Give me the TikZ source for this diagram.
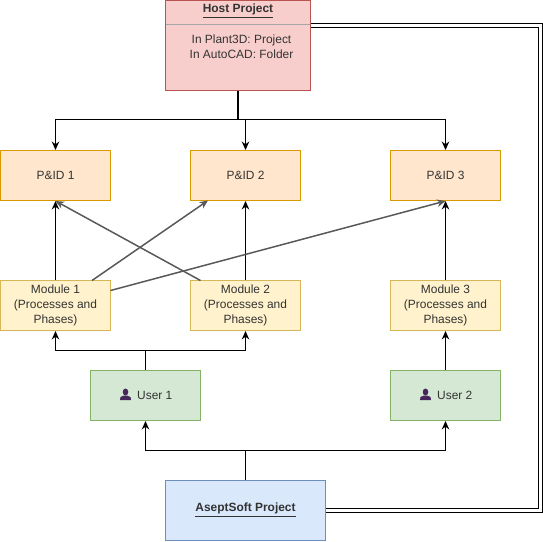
\documentclass[tikz,border=0pt]{standalone}
\usepackage{fontspec}
\setmainfont{Liberation Sans}
\usetikzlibrary{arrows.meta,calc}
\definecolor{labelgray}{HTML}{333333}
\definecolor{linkgray}{HTML}{595959}
\definecolor{iconpurple}{HTML}{47265C}
\definecolor{hostfill}{HTML}{F8CECC}
\definecolor{hostline}{HTML}{B85450}
\definecolor{pidfill}{HTML}{FFE6CC}
\definecolor{pidline}{HTML}{D79B00}
\definecolor{modfill}{HTML}{FFF2CC}
\definecolor{modline}{HTML}{D6B656}
\definecolor{userfill}{HTML}{D5E8D4}
\definecolor{userline}{HTML}{82B366}
\definecolor{asepfill}{HTML}{DAE8FC}
\definecolor{asepline}{HTML}{6C8EBF}
\tikzset{
  box/.style={draw,line width=.02cm,text=labelgray,align=center,font=\fontsize{6.8}{8.55}\selectfont},
  hostbox/.style={box,draw=hostline,fill=hostfill},
  pidbox/.style={box,draw=pidline,fill=pidfill,minimum width=2.2cm,minimum height=1cm},
  modulebox/.style={box,draw=modline,fill=modfill,minimum width=2.2cm,minimum height=1cm,inner sep=0pt},
  userbox/.style={box,draw=userline,fill=userfill,minimum width=2.2cm,minimum height=1cm},
  asepbox/.style={box,draw=asepline,fill=asepfill,minimum width=3.2cm,minimum height=1.2cm},
  link/.style={line width=.02cm,-{Stealth[length=.17cm,width=.15cm]}},
  bus/.style={line width=.02cm},
  trunk/.style={line width=.04cm},
  graylink/.style={link,draw=linkgray,line width=.03cm},
  ring/.style={line width=.02cm,double,double distance=.06cm},
  usericon/.pic={
    \fill[iconpurple] (0,.05) ellipse (.055 and .07);
    \fill[iconpurple] (-.11,-.11)--(-.1,-.05)--(-.03,-.02)--(.03,-.02)--(.1,-.05)--(.11,-.11)--cycle;
  }
}
\begin{document}
\begin{tikzpicture}[scale=1]
\useasboundingbox (0,0) rectangle (10.86,10.82);
\node[hostbox,minimum width=2.9cm,minimum height=1.8cm] (host) at (4.76,9.91) {};
\node[box,draw=none] (hosttitle) at (4.76,10.59) {\textbf{\underline{Host Project}}};
\node[box,draw=none] (hostbody) at (4.83,9.88) {In Plant3D: Project\\In AutoCAD: Folder};
\node[pidbox] (P1) at (1.11,7.31) {P\&ID 1};
\node[pidbox] (P2) at (4.91,7.31) {P\&ID 2};
\node[pidbox] (P3) at (8.91,7.31) {P\&ID 3};
\node[modulebox] (M1) at (1.11,4.71) {Module 1\\(Processes and\\Phases)};
\node[modulebox] (M2) at (4.91,4.71) {Module 2\\(Processes and\\Phases)};
\node[modulebox] (M3) at (8.91,4.71) {Module 3\\(Processes and\\Phases)};
\node[userbox] (U1) at (2.91,2.91) {\hspace{.37cm}User 1};
\node[userbox] (U2) at (8.91,2.91) {\hspace{.37cm}User 2};
\pic at ($(U1.center)+(-.4,.02)$) {usericon};
\pic at ($(U2.center)+(-.4,.02)$) {usericon};
\node[asepbox] (A) at (4.91,.61) {\textbf{\underline{AseptSoft Project}}};
% separator of the host box
\coordinate (hostsepl) at (3.32,10.33);
\coordinate (hostsepr) at (6.2,10.33);
\draw[line width=.02cm,gray!70] (hostsepl)--(hostsepr);
% junctions
\coordinate (hostbus) at (4.76,8.42);
\coordinate (userbus) at (2.91,3.82);
\coordinate (asepbus) at (4.91,1.82);
\draw[trunk] (host.south)--(hostbus);
\draw[link] (hostbus)-|(P1.north);
\draw[link] (hostbus)-|(P2.north);
\draw[link] (hostbus)-|(P3.north);
\draw[link] (M1.north)--(P1.south);
\draw[link] (M2.north)--(P2.south);
\draw[link] (M3.north)--(P3.south);
% crossing links
\coordinate (m1top) at (1.84,5.21);
\coordinate (m1right) at (2.21,5.01);
\coordinate (m2top) at (4.01,5.21);
\coordinate (p2low) at (4.16,6.81);
\draw[graylink] (m1top)--(p2low);
\draw[graylink] (m2top)--(P1.south);
\draw[graylink] (m1right)--(P3.south);
\draw[bus] (U1.north)--(userbus);
\draw[link] (userbus)-|(M1.south);
\draw[link] (userbus)-|(M2.south);
\draw[link] (U2.north)--(M3.south);
\draw[bus] (A.north)--(asepbus);
\draw[link] (asepbus)-|(U1.south);
\draw[link] (asepbus)-|(U2.south);
% double line round the right side
\coordinate (hostout) at (6.21,10.31);
\coordinate (ringtop) at (10.8,10.31);
\coordinate (ringlow) at (10.8,.61);
\draw[ring] (A.east)--(ringlow)--(ringtop)--(hostout);
\end{tikzpicture}
\end{document}
